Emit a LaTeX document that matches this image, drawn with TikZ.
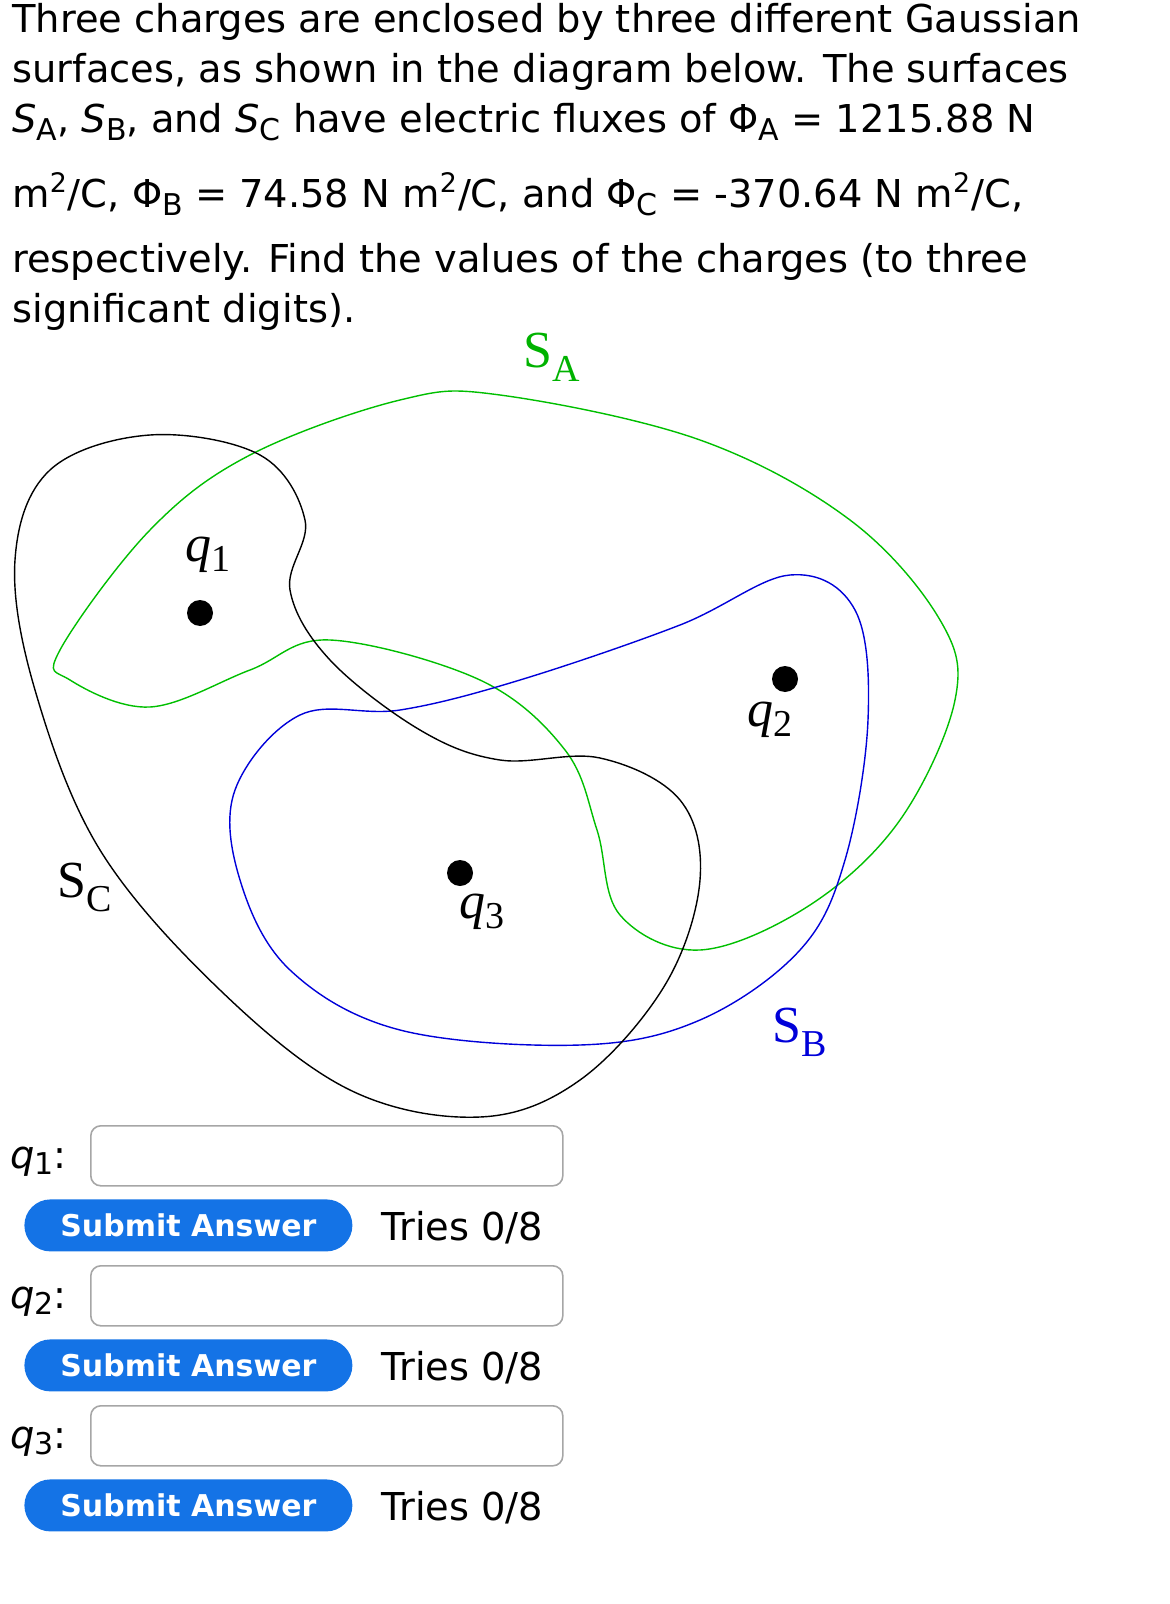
\documentclass[tikz,border=0pt]{standalone}
\usepackage{fontspec}
\setmainfont{DejaVu Sans}
\newfontfamily\lab{Liberation Serif}
\definecolor{btnblue}{HTML}{1473E6}
\begin{document}
\begin{tikzpicture}[x=0.5pt,y=-0.5pt,
 txt/.style={anchor=base west,inner sep=0,font=\fontsize{19.2}{22}\selectfont},
 surf/.style={line width=0.7pt},
 lbl/.style={font=\lab\itshape\fontsize{26}{28}\selectfont,inner sep=0},
 slab/.style={font=\lab\fontsize{26}{28}\selectfont,inner sep=0},
 dotc/.style={circle,fill=black,inner sep=0,minimum size=13pt},
 inbox/.style={draw=gray!70,rounded corners=5pt,line width=0.8pt,minimum width=236pt,minimum height=30pt,anchor=north west},
 btn/.style={fill=btnblue,rounded corners=13pt,minimum width=164pt,minimum height=26pt,anchor=north west,text=white,font=\bfseries\fontsize{15}{18}\selectfont},
 qlab/.style={anchor=base west,inner sep=0,font=\fontsize{19.2}{22}\selectfont}]
\useasboundingbox (0,0) rectangle (1170,1604);
\node[txt] (t1) at (12,33) {Three charges are enclosed by three different Gaussian};
\node[txt] (t2) at (12,83) {surfaces, as shown in the diagram below. The surfaces};
\node[txt] (t3) at (12,133) {\textit{S}\raisebox{-4pt}{\fontsize{15}{15}\selectfont A}, \textit{S}\raisebox{-4pt}{\fontsize{15}{15}\selectfont B}, and \textit{S}\raisebox{-4pt}{\fontsize{15}{15}\selectfont C} have electric fluxes of Φ\raisebox{-4pt}{\fontsize{15}{15}\selectfont A} = 1215.88 N};
\node[txt] (t4) at (12,208) {m\textsuperscript{2}/C, Φ\raisebox{-4pt}{\fontsize{15}{15}\selectfont B} = 74.58 N m\textsuperscript{2}/C, and Φ\raisebox{-4pt}{\fontsize{15}{15}\selectfont C} = -370.64 N m\textsuperscript{2}/C,};
\node[txt] (t5) at (12,273) {respectively. Find the values of the charges (to three};
\node[txt] (t6) at (12,323) {significant digits).};
% surfaces
\draw[surf,green!75!black] plot[smooth cycle,tension=0.6] coordinates {(60,650) (150,530) (250,455) (400,400) (500,395) (700,440) (850,520) (940,620) (955,700) (900,820) (810,905) (700,950) (620,915) (597,830) (565,750) (480,680) (330,640) (250,670) (150,707) (70,680)};
\draw[surf,blue!85!black] plot[smooth cycle,tension=0.6] coordinates {(235,790) (300,715) (400,710) (520,680) (680,625) (790,575) (855,610) (868,720) (845,860) (800,950) (700,1020) (580,1045) (400,1030) (290,970) (240,880)};
\draw[surf,black] plot[smooth cycle,tension=0.6] coordinates {(15,560) (50,470) (150,435) (260,455) (305,520) (290,590) (330,660) (420,730) (500,760) (600,758) (680,800) (700,880) (665,985) (580,1080) (480,1117) (350,1090) (220,990) (100,850) (35,690)};
\node[dotc] (d1) at (200,613) {};
\node[dotc] (d2) at (785,679) {};
\node[dotc] (d3) at (460,873) {};
\node[lbl] (q1) at (208,555) {q\raisebox{-5pt}{\upshape\fontsize{19}{19}\selectfont 1}};
\node[lbl] (q2) at (770,720) {q\raisebox{-5pt}{\upshape\fontsize{19}{19}\selectfont 2}};
\node[lbl] (q3) at (482,912) {q\raisebox{-5pt}{\upshape\fontsize{19}{19}\selectfont 3}};
\node[slab,text=green!70!black] (sa) at (552,357) {S\raisebox{-7pt}{\fontsize{19}{19}\selectfont A}};
\node[slab] (sc) at (85,887) {S\raisebox{-7pt}{\fontsize{19}{19}\selectfont C}};
\node[slab,text=blue!85!black] (sb) at (800,1032) {S\raisebox{-7pt}{\fontsize{19}{19}\selectfont B}};
% form
\foreach \i/\dy in {1/0,2/140,3/280}{
 \node[qlab] (ql\i) at (10,1168+\dy) {\textit{q}\raisebox{-3pt}{\fontsize{15}{15}\selectfont\i}:};
 \node[inbox] (in\i) at (90,1125+\dy) {};
 \node[btn] (b\i) at (24,1199+\dy) {Submit Answer};
 \node[qlab] (tr\i) at (381,1240+\dy) {Tries 0/8};
}
\end{tikzpicture}
\end{document}
